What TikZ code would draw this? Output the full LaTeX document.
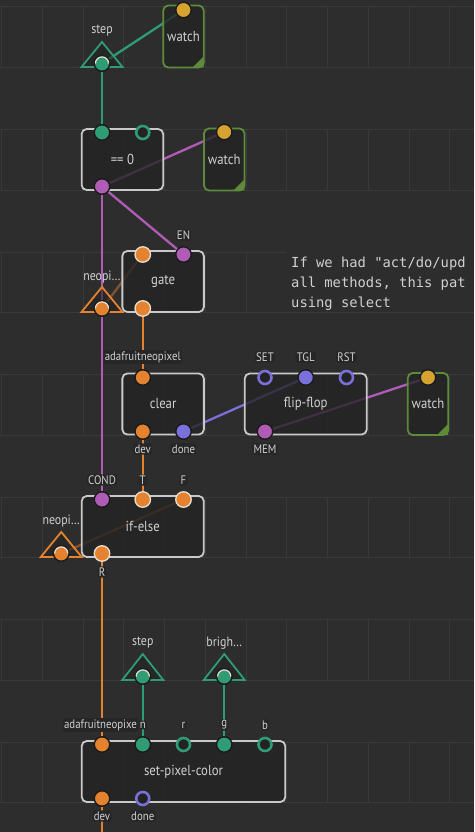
\documentclass[tikz,border=0pt]{standalone}
\usepackage{fontspec}
\setmainfont{PT Sans}[FakeStretch=0.88]
\setmonofont{DejaVu Sans Mono}
\usepackage{xcolor}
\definecolor{CanvasGray}{HTML}{2D2D2D}
\definecolor{GridGray}{HTML}{393939}
\definecolor{NodeFill}{HTML}{232323}
\definecolor{NodeBorder}{HTML}{C9C9C9}
\definecolor{LabelText}{HTML}{D0D0D0}
\definecolor{LabelBg}{HTML}{262626}
\definecolor{PinDark}{HTML}{1B1B1B}
\definecolor{PinLit}{HTML}{E6DFCF}
\definecolor{PulseGreen}{HTML}{2F9C76}
\definecolor{BoolPurple}{HTML}{B05CB6}
\definecolor{DevOrange}{HTML}{E5822F}
\definecolor{PulseBlue}{HTML}{7A70D9}
\definecolor{WatchGreen}{HTML}{5E8B3A}
\definecolor{WatchYellow}{HTML}{D6A331}
\usetikzlibrary{positioning, calc}
\pgfdeclarelayer{grid}
\pgfdeclarelayer{links}
\pgfsetlayers{grid,links,main}
\tikzset{
  % Box styles
  patchbox/.style={rectangle, rounded corners=5pt, draw=NodeBorder, line width=1.8pt, fill=NodeFill, fill opacity=0.78, draw opacity=1, text opacity=1, text=LabelText, inner sep=0pt, minimum height=61pt, font=\fontsize{14.5}{16}\selectfont},
  watchbox/.style={patchbox, draw=WatchGreen, minimum width=40.5pt, minimum height=62pt},
  % Terminal styles
  termline/.style={line width=1.8pt, fill=NodeFill, fill opacity=0.6, draw opacity=1},
  termlabel/.style={text=LabelText, inner sep=1pt, font=\fontsize{13.5}{15}\selectfont},
  % Pin styles
  pinfull/.style={circle, minimum size=15.5pt, inner sep=0pt, draw=PinDark, line width=1.4pt},
  pinlit/.style={pinfull, draw=PinLit, line width=1.3pt},
  pinopen/.style={circle, minimum size=13pt, inner sep=0pt, fill=NodeFill, line width=2.6pt},
  pinlabel/.style={fill=LabelBg, text=LabelText, inner sep=1.2pt, rounded corners=1.5pt, font=\fontsize{12.3}{13}\selectfont},
  % Link styles
  link/.style={draw=#1, line width=2.3pt},
  gridline/.style={draw=GridGray, line width=1pt}
}

\begin{document}
\begin{tikzpicture}[x=1pt, y=-1pt]
  \useasboundingbox (0,0) rectangle (474,832);
  \begin{pgfonlayer}{grid}
    \fill[CanvasGray] (0,0) rectangle (474,832);
    \foreach \bandtop in {7,129.5,...,742} {
      \draw[gridline] (0,\bandtop) -- (474,\bandtop);
      \draw[gridline] (0,\bandtop+60.5) -- (474,\bandtop+60.5);
      \foreach \col in {1.5,42.25,...,460} {
        \draw[gridline] (\col,\bandtop) -- (\col,\bandtop+60.5);
      }
    }
    % comment backdrop
    \fill[CanvasGray] (286,248) rectangle (474,311);
  \end{pgfonlayer}

  % Comment
  \node[anchor=west, inner sep=0pt, align=left, text=LabelText, font=\ttfamily\fontsize{13.8}{20}\selectfont] (note) at (291,284) {If we had "act/do/upd\\all methods, this pat\\using select};

  % step (top)
  \draw[termline, draw=PulseGreen] (81.5,67) -- (102,42) -- (122.5,67) -- cycle;
  \node[pinfull, fill=PulseGreen] (stepA) at (102,63.5) {};
  \draw[PinLit, line width=1.2pt] ([xshift=-6.6pt]stepA.center) arc[start angle=180, end angle=0, radius=6.6pt];
  \node[termlabel] (stepA-label) at (102,31) {step};

  % watch (top)
  \node[watchbox] (watchA) at (183.5,36.5) {watch};
  \fill[WatchGreen] ([xshift=-1pt,yshift=12pt]watchA.south east) -- ([xshift=-12pt,yshift=1pt]watchA.south east) -- ([xshift=-1pt,yshift=1pt]watchA.south east) -- cycle;
  \node[pinfull, fill=WatchYellow] (watchA-in) at (183.5,10) {};

  % == 0
  \node[patchbox, minimum width=81.5pt] (eqz) at (122.4,159.5) {== 0};
  \node[pinfull, fill=PulseGreen] (eqz-in1) at (102,132.5) {};
  \node[pinopen, draw=PulseGreen] (eqz-in2) at (142.75,132.5) {};
  \node[pinfull, fill=BoolPurple] (eqz-out) at (102,186.5) {};

  % watch (== 0)
  \node[watchbox] (watchB) at (224.25,159.5) {watch};
  \fill[WatchGreen] ([xshift=-1pt,yshift=12pt]watchB.south east) -- ([xshift=-12pt,yshift=1pt]watchB.south east) -- ([xshift=-1pt,yshift=1pt]watchB.south east) -- cycle;
  \node[pinfull, fill=WatchYellow] (watchB-in) at (224.25,132) {};

  % neopixel terminal (gate)
  \draw[termline, draw=DevOrange] (81.5,312) -- (102,287) -- (122.5,312) -- cycle;
  \node[pinfull, fill=DevOrange] (neopiA) at (102,308.5) {};
  \draw[PinLit, line width=1.2pt] ([xshift=-6.6pt]neopiA.center) arc[start angle=180, end angle=0, radius=6.6pt];
  \node[termlabel] (neopiA-label) at (102,277) {neopi…};

  % gate
  \node[patchbox, minimum width=81.5pt] (gate) at (163.1,281.5) {gate};
  \node[pinlit, fill=DevOrange] (gate-in) at (142.75,254.5) {};
  \node[pinfull, fill=BoolPurple] (gate-en) at (183.5,254.5) {};
  \node[pinlit, fill=DevOrange] (gate-out) at (142.75,308.5) {};
  \node[pinlabel] (gate-en-label) at (183.5,235) {EN};

  % clear
  \node[patchbox, minimum width=81.5pt] (clear) at (163.1,404) {clear};
  \node[pinfull, fill=DevOrange] (clear-dev) at (142.75,377.5) {};
  \node[pinfull, fill=DevOrange] (clear-devout) at (142.75,431.5) {};
  \node[pinfull, fill=PulseBlue] (clear-done) at (183.5,431.5) {};
  \node[pinlabel] (clear-dev-label) at (142.75,357) {adafruitneopixel};
  \node[pinlabel] (clear-devout-label) at (142.75,449) {dev};
  \node[pinlabel] (clear-done-label) at (183.5,449) {done};

  % flip-flop
  \node[patchbox, minimum width=122pt] (flipflop) at (305.75,404) {flip-flop};
  \node[pinopen, draw=PulseBlue] (ff-set) at (265,377.5) {};
  \node[pinfull, fill=PulseBlue] (ff-tgl) at (305.75,377.5) {};
  \node[pinopen, draw=PulseBlue] (ff-rst) at (346.5,377.5) {};
  \node[pinfull, fill=BoolPurple] (ff-mem) at (265,431.5) {};
  \node[pinlabel] (ff-set-label) at (265,357) {SET};
  \node[pinlabel] (ff-tgl-label) at (305.75,357) {TGL};
  \node[pinlabel] (ff-rst-label) at (346.5,357) {RST};
  \node[pinlabel] (ff-mem-label) at (265,449) {MEM};

  % watch (flip-flop)
  \node[watchbox] (watchC) at (428,404) {watch};
  \fill[WatchGreen] ([xshift=-1pt,yshift=12pt]watchC.south east) -- ([xshift=-12pt,yshift=1pt]watchC.south east) -- ([xshift=-1pt,yshift=1pt]watchC.south east) -- cycle;
  \node[pinfull, fill=WatchYellow] (watchC-in) at (428,377.5) {};

  % neopixel terminal (if-else)
  \draw[termline, draw=DevOrange] (40.75,557) -- (61.25,532) -- (81.75,557) -- cycle;
  \node[pinfull, fill=DevOrange] (neopiB) at (61.25,553.5) {};
  \draw[PinLit, line width=1.2pt] ([xshift=-6.6pt]neopiB.center) arc[start angle=180, end angle=0, radius=6.6pt];
  \node[termlabel] (neopiB-label) at (61.25,521) {neopi…};

  % if-else
  \node[patchbox, minimum width=122pt] (ifelse) at (142.75,526.5) {if-else};
  \node[pinfull, fill=BoolPurple] (ifelse-cond) at (102,499.5) {};
  \node[pinlit, fill=DevOrange] (ifelse-t) at (142.75,499.5) {};
  \node[pinlit, fill=DevOrange] (ifelse-f) at (183.5,499.5) {};
  \node[pinlit, fill=DevOrange] (ifelse-r) at (102,553.5) {};
  \node[pinlabel] (ifelse-cond-label) at (102,480) {COND};
  \node[pinlabel] (ifelse-t-label) at (142.75,480) {T};
  \node[pinlabel] (ifelse-f-label) at (183.5,480) {F};
  \node[pinlabel] (ifelse-r-label) at (102,572) {R};

  % step and brightness terminals
  \draw[termline, draw=PulseGreen] (122.25,680) -- (142.75,654) -- (163.25,680) -- cycle;
  \node[pinfull, fill=PulseGreen] (stepB) at (142.75,676.5) {};
  \draw[PinLit, line width=1.2pt] ([xshift=-6.6pt]stepB.center) arc[start angle=180, end angle=0, radius=6.6pt];
  \node[termlabel] (stepB-label) at (142.75,643) {step};
  \draw[termline, draw=PulseGreen] (203.75,680) -- (224.25,654) -- (244.75,680) -- cycle;
  \node[pinfull, fill=PulseGreen] (brigh) at (224.25,676.5) {};
  \draw[PinLit, line width=1.2pt] ([xshift=-6.6pt]brigh.center) arc[start angle=180, end angle=0, radius=6.6pt];
  \node[termlabel] (brigh-label) at (224.25,643) {brigh…};

  % set-pixel-color
  \node[patchbox, minimum width=203.5pt] (setpix) at (183.5,771.5) {set-pixel-color};
  \node[pinfull, fill=DevOrange] (setpix-dev) at (102,744.5) {};
  \node[pinfull, fill=PulseGreen] (setpix-n) at (142.75,744.5) {};
  \node[pinopen, draw=PulseGreen] (setpix-r) at (183.5,744.5) {};
  \node[pinfull, fill=PulseGreen] (setpix-g) at (224.25,744.5) {};
  \node[pinopen, draw=PulseGreen] (setpix-b) at (265,744.5) {};
  \node[pinfull, fill=DevOrange] (setpix-devout) at (102,798.5) {};
  \node[pinopen, draw=PulseBlue] (setpix-done) at (142.75,798.5) {};
  \node[pinlabel] (setpix-dev-label) at (100.5,725) {adafruitneopixe};
  \node[pinlabel] (setpix-n-label) at (142.75,725) {n};
  \node[pinlabel] (setpix-r-label) at (183.5,725) {r};
  \node[pinlabel] (setpix-g-label) at (224.25,725) {g};
  \node[pinlabel] (setpix-b-label) at (265,725) {b};
  \node[pinlabel] (setpix-devout-label) at (102,816) {dev};
  \node[pinlabel] (setpix-done-label) at (142.75,816) {done};
  \coordinate (offpage) at (102,836);

  % Links
  \begin{pgfonlayer}{links}
    \draw[link=PulseGreen] (stepA.center) -- (watchA-in.center);
    \draw[link=PulseGreen] (stepA.center) -- (eqz-in1.center);
    \draw[link=BoolPurple] (eqz-out.center) -- (watchB-in.center);
    \draw[link=BoolPurple] (eqz-out.center) -- (gate-en.center);
    \draw[link=BoolPurple] (eqz-out.center) -- (ifelse-cond.center);
    \draw[link=DevOrange!45!CanvasGray] (neopiA.center) -- (gate-in.center);
    \draw[link=DevOrange] (gate-out.center) -- (clear-dev.center);
    \draw[link=PulseBlue] (clear-done.center) -- (ff-tgl.center);
    \draw[link=BoolPurple] (ff-mem.center) -- (watchC-in.center);
    \draw[link=DevOrange] (clear-devout.center) -- (ifelse-t.center);
    \draw[link=DevOrange!45!CanvasGray] (neopiB.center) -- (ifelse-f.center);
    \draw[link=DevOrange] (ifelse-r.center) -- (setpix-dev.center);
    \draw[link=PulseGreen] (stepB.center) -- (setpix-n.center);
    \draw[link=PulseGreen] (brigh.center) -- (setpix-g.center);
    \draw[link=DevOrange] (setpix-devout.center) -- (offpage);
  \end{pgfonlayer}
\end{tikzpicture}
\end{document}
